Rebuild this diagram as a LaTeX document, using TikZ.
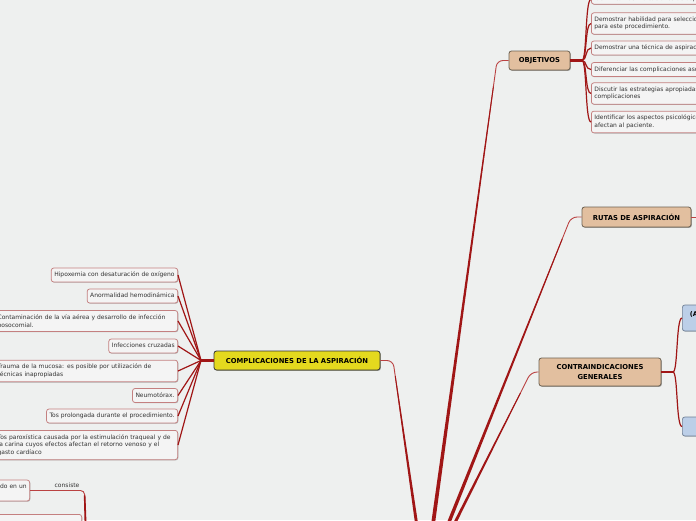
\documentclass[tikz,border=0pt]{standalone}
\usepackage{fontspec}
\setmainfont{DejaVu Sans}
\usetikzlibrary{calc,shadows}
\definecolor{bg}{HTML}{EEF0EF}
\definecolor{tanf}{HTML}{E2BF9F}
\definecolor{tanb}{HTML}{6E6252}
\definecolor{yel}{HTML}{E4D91E}
\definecolor{leafb}{HTML}{C48080}
\definecolor{leaff}{HTML}{F4F4F4}
\definecolor{leaft}{HTML}{333333}
\definecolor{dred}{HTML}{A01616}
\definecolor{lred}{HTML}{BA4242}
\definecolor{blu}{HTML}{BCCFE8}
\definecolor{blub}{HTML}{6E7F95}
\newcommand\mytaper[4]{\fill[dred] ($(#1)!#3!90:(#2)$) -- ($(#2)!#4!-90:(#1)$) -- ($(#2)!#4!90:(#1)$) -- ($(#1)!#3!-90:(#2)$) -- cycle;}
\tikzset{
 mainbox/.style={draw=tanb, line width=0.8pt, fill=tanf, rounded corners=2.5pt,
   font=\bfseries\fontsize{6.8}{9.3}\selectfont, text=black, inner sep=0pt, align=center,
   drop shadow={shadow xshift=0.8pt, shadow yshift=-0.8pt, opacity=0.35, fill=black}},
 leaf/.style={draw=leafb, line width=0.75pt, fill=leaff, rounded corners=2.5pt,
   font=\fontsize{6}{7.6}\selectfont, text=leaft, inner xsep=3pt, inner ysep=4pt, align=left,
   drop shadow={shadow xshift=0.7pt, shadow yshift=-0.7pt, opacity=0.25, fill=black}},
 one/.style={text height=4.6pt, text depth=1.4pt},
 two/.style={minimum height=21pt},
 three/.style={minimum height=28.5pt},
 wide/.style={text width=177pt},
 owide/.style={text width=220pt},
 bluebox/.style={draw=blub, line width=0.7pt, fill=blu, rounded corners=2.5pt,
   font=\bfseries\fontsize{6.5}{7.6}\selectfont, text=black, inner xsep=7.5pt, inner ysep=0pt,
   align=left, text width=40pt,
   drop shadow={shadow xshift=0.7pt, shadow yshift=-0.7pt, opacity=0.25, fill=black}},
 conn/.style={draw=lred, line width=0.9pt, rounded corners=6pt},
 fanl/.style={draw=dred, line width=1.2pt},
 stem/.style={draw=dred, line width=2.2pt},
 lbl/.style={font=\fontsize{6}{7}\selectfont, text=leaft, inner sep=0pt},
}
\begin{document}
\begin{tikzpicture}[x=1pt,y=-1pt]
\path[use as bounding box, fill=bg] (0,0) rectangle (696,520);
\clip (0,0) rectangle (696,520);

\coordinate (root) at (425,582);

% ---- main nodes
\node[mainbox, minimum width=61pt, minimum height=19pt] (obj) at (539.5,60.5) {OBJETIVOS};
\node[mainbox, minimum width=109pt, minimum height=20pt] (rutas) at (636.5,217) {RUTAS DE ASPIRACIÓN};
\node[mainbox, fill=yel, draw=black!80, minimum width=166pt, minimum height=19pt] (comp) at (297,360.5) {COMPLICACIONES DE LA ASPIRACIÓN};
\node[mainbox, minimum width=122pt, minimum height=28pt] (contra) at (600,372) {CONTRAINDICACIONES\\GENERALES};

% ---- main connectors (to the root below the page)
\coordinate (cobj) at (497,60.5);
\coordinate (crut) at (571,217);
\coordinate (ccomp) at (393,360.5);
\coordinate (ccon) at (531,372);
\draw[conn] (obj.west) -- (cobj) -- (root);
\draw[conn] (rutas.west) -- (crut) -- (root);
\draw[conn] (comp.east) -- (ccomp) -- (root);
\draw[conn] (contra.west) -- (ccon) -- (root);
\coordinate (tobj) at ($(cobj)!0.05!(root)$);
\coordinate (trut) at ($(crut)!0.06!(root)$);
\coordinate (tcomp) at ($(ccomp)!0.07!(root)$);
\coordinate (tcon) at ($(ccon)!0.1!(root)$);
\mytaper{tobj}{root}{0.45pt}{2.1pt}
\mytaper{trut}{root}{0.45pt}{2.0pt}
\mytaper{tcomp}{root}{0.45pt}{1.9pt}
\mytaper{tcon}{root}{0.45pt}{1.9pt}

% ---- RUTAS outgoing stub
\coordinate (rout) at (710,217);
\draw[conn] (rutas.east) -- (rout);

% ---- OBJETIVOS leaves
\node[leaf, one, owide, inner ysep=1.8pt, anchor=south west] (o0) at (591,4.5) {Identificar las indicaciones de aspiración};
\node[leaf, two, owide, anchor=west] (o1) at (591,23.5) {Demostrar habilidad para seleccionar el equipo\\para este procedimiento.};
\node[leaf, one, owide, anchor=west] (o2) at (591,48) {Demostrar una técnica de aspiración};
\node[leaf, one, owide, anchor=west] (o3) at (591,69.5) {Diferenciar las complicaciones asociadas};
\node[leaf, two, owide, anchor=west] (o4) at (591,93.5) {Discutir las estrategias apropiadas para prevenir\\complicaciones};
\node[leaf, two, owide, anchor=west] (o5) at (591,122) {Identificar los aspectos psicológicos que\\afectan al paciente.};
\coordinate (ofan) at (582,60.5);
\draw[stem] (obj.east) -- (ofan);
\foreach \n in {o0,o1,o2,o3,o4,o5}
  \draw[fanl] (ofan) .. controls +(5,0) and +(-6,0) .. (\n.west);

% ---- CONTRAINDICACIONES children
\node[bluebox, anchor=west, minimum height=26pt] (b1) at (682,318) {(A\\\mbox{}};
\node[bluebox, anchor=west, minimum height=19pt] (b2) at (682,426.5) {};
\coordinate (kfan) at (673,372);
\draw[stem] (contra.east) -- (kfan);
\foreach \n in {b1,b2}
  \draw[fanl] (kfan) .. controls +(5,0) and +(-6,0) .. (\n.west);

% ---- COMPLICACIONES leaves
\node[leaf, one, anchor=east] (l1) at (178,275) {Hipoxemia con desaturación de oxígeno};
\node[leaf, one, anchor=east] (l2) at (178,296) {Anormalidad hemodinámica};
\node[leaf, two, wide, anchor=east] (l3) at (178,321) {Contaminación de la vía aérea y desarrollo de infección\\nosocomial.};
\node[leaf, one, anchor=east] (l4) at (178,346) {Infecciones cruzadas};
\node[leaf, two, wide, anchor=east] (l5) at (178,371) {Trauma de la mucosa: es posible por utilización de\\técnicas inapropiadas};
\node[leaf, one, anchor=east] (l6) at (178,395.5) {Neumotórax.};
\node[leaf, one, anchor=east] (l7) at (178,416) {Tos prolongada durante el procedimiento.};
\node[leaf, three, wide, anchor=east] (l8) at (178,445) {Tos paroxística causada por la estimulación traqueal y de\\la carina cuyos efectos afectan el retorno venoso y el\\gasto cardíaco};
\coordinate (cfan) at (201,360.5);
\draw[stem] (comp.west) -- (cfan);
\foreach \n in {l1,l2,l3,l4,l5,l6,l7,l8}
  \draw[fanl] (\n.east) -- (cfan);

% ---- bottom-left branch
\node[leaf, two, text width=70pt, align=right, anchor=east] (dbox) at (30,490.5) {do en un\\\mbox{}};
\node[leaf, anchor=north east, minimum width=120pt, minimum height=20pt] (ebox) at (82,514) {};
\coordinate (bl) at (87,570);
\coordinate (bc) at (84.5,490.5);
\draw[conn, rounded corners=4pt] (dbox.east) -- node[lbl, pos=0.68, above=2pt] {consiste} (bc) -- (bl);
\coordinate (tbl) at ($(bc)!0.06!(bl)$);
\mytaper{tbl}{bl}{0.8pt}{1.2pt}
\end{tikzpicture}
\end{document}
